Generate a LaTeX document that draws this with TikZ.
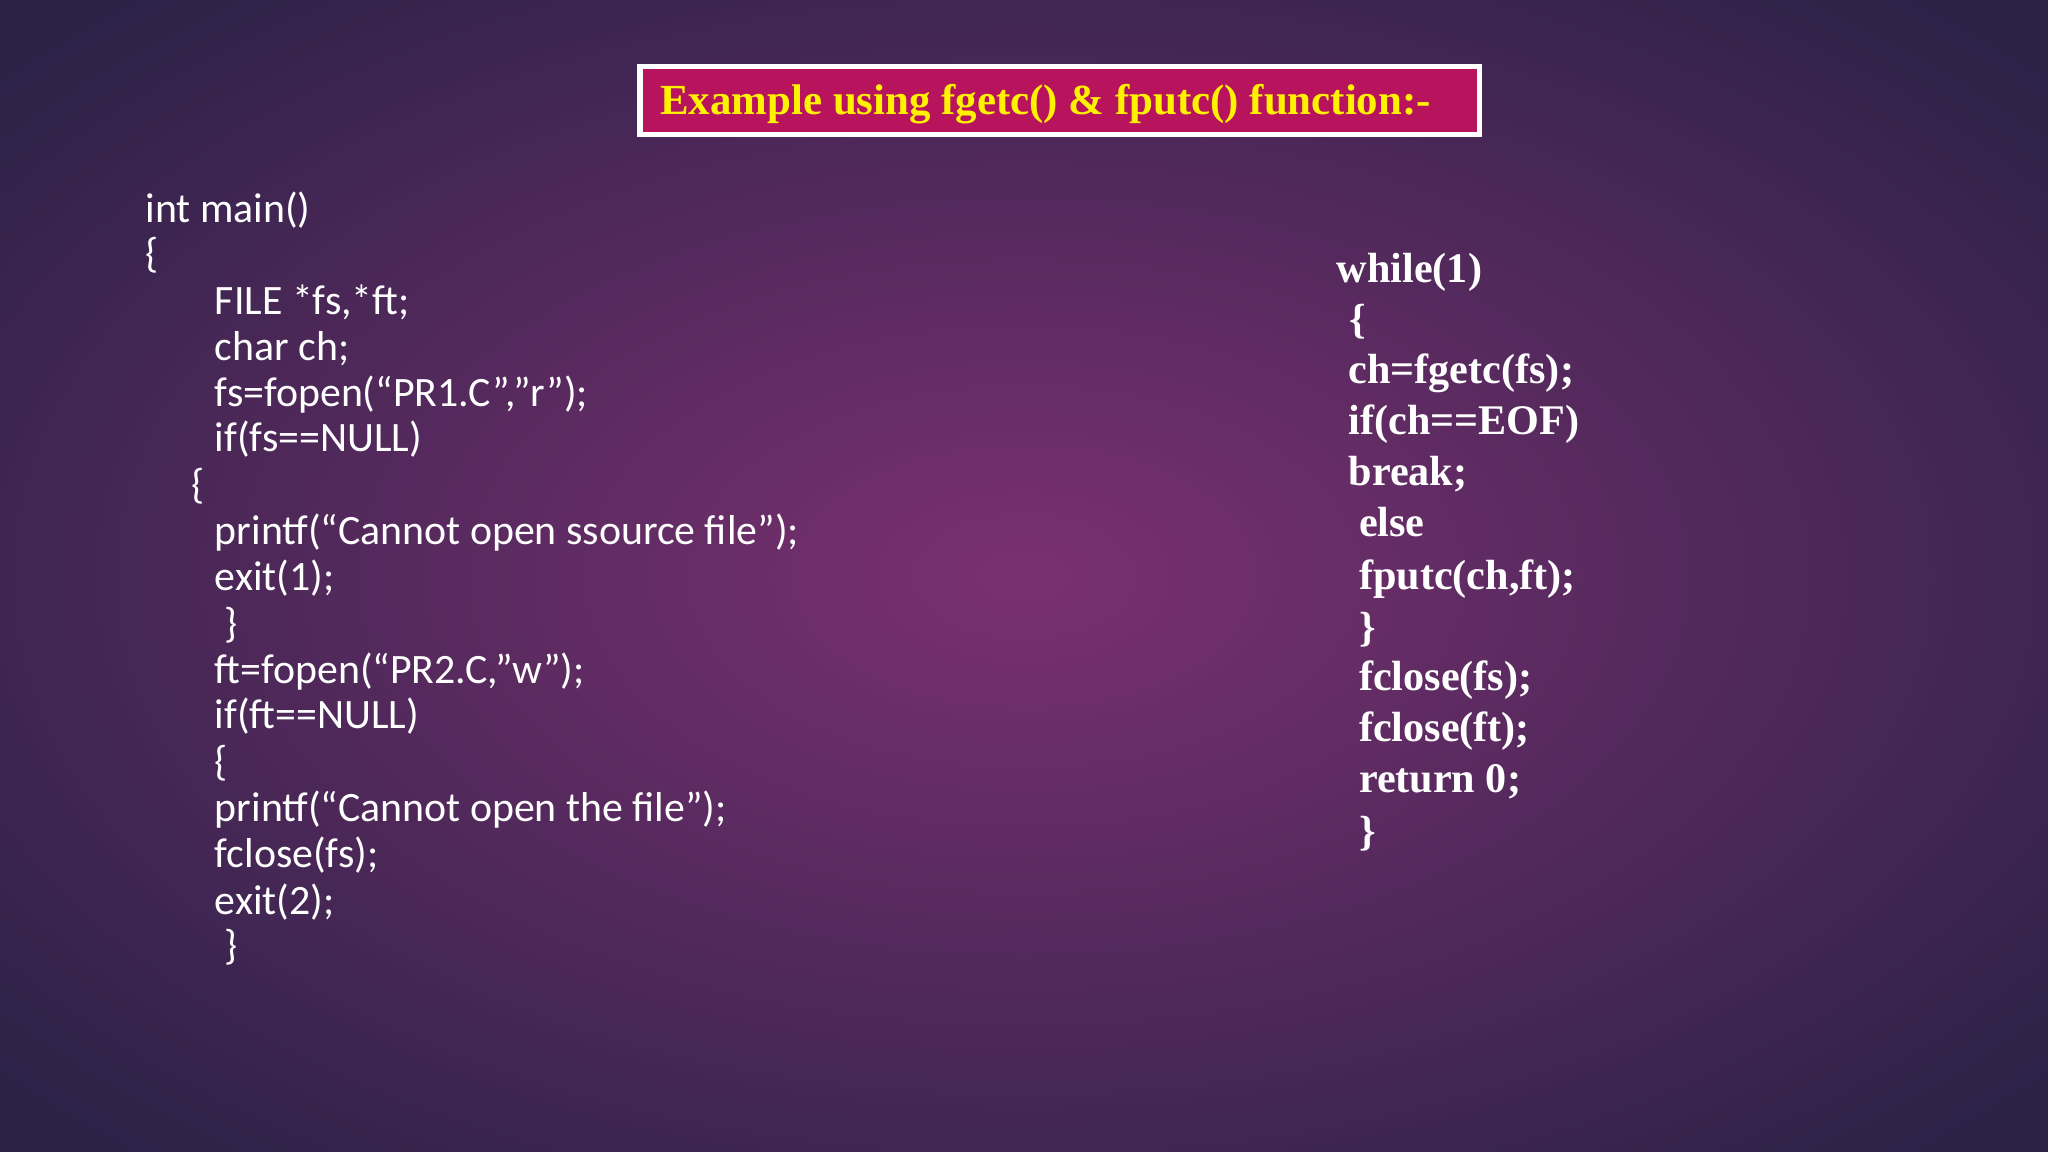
\documentclass[tikz,border=0pt]{standalone}
\usepackage{fontspec}
\setmainfont{Liberation Serif}
\newfontfamily\codefont{Carlito}
\begin{document}
\begin{tikzpicture}[x=0.013061cm,y=-0.013061cm,
  lc/.style={anchor=base west,text=white,font=\codefont\fontsize{11.9}{13}\selectfont,inner sep=0},
  rc/.style={anchor=base west,text=white,font=\bfseries\fontsize{12}{13}\selectfont,inner sep=0}]
\useasboundingbox (0,0) rectangle (1568,882);
\definecolor{bgin}{HTML}{7A3070}
\definecolor{bgout}{HTML}{2C2248}
\definecolor{titlebg}{HTML}{B8145E}
\shade[inner color=bgin,outer color=bgout] (-250,-150) rectangle (1818,1032);
\node[draw=white,line width=1.5pt,fill=titlebg,minimum width=643*0.013061cm,minimum height=52*0.013061cm,inner sep=0] (title) at (811.5,77) {};
\node[anchor=west,text=yellow,font=\bfseries\fontsize{12.2}{13}\selectfont,inner sep=0] (tt) at (505,80) {Example using fgetc() \& fputc() function:-};
% left code
\node[lc] (l1) at (111,170) {int main()};
\node[lc] (l2) at (111,205) {\{};
\node[lc] (l3) at (164,241) {FILE *fs,*ft;};
\node[lc] (l4) at (164,276) {char ch;};
\node[lc] (l5) at (164,311) {fs=fopen(“PR1.C”,”r”);};
\node[lc] (l6) at (164,346) {if(fs==NULL)};
\node[lc] (l7) at (146,382) {\{};
\node[lc] (l8) at (164,417) {printf(“Cannot open ssource file”);};
\node[lc] (l9) at (164,452) {exit(1);};
\node[lc] (l10) at (171,488) {\}};
\node[lc] (l11) at (164,523) {ft=fopen(“PR2.C,”w”);};
\node[lc] (l12) at (164,558) {if(ft==NULL)};
\node[lc] (l13) at (164,594) {\{};
\node[lc] (l14) at (164,629) {printf(“Cannot open the file”);};
\node[lc] (l15) at (164,664) {fclose(fs);};
\node[lc] (l16) at (164,700) {exit(2);};
\node[lc] (l17) at (171,735) {\}};
% right code
\node[rc] (r1) at (1023,216) {while(1)};
\node[rc] (r2) at (1033,255) {\{};
\node[rc] (r3) at (1032,294) {ch=fgetc(fs);};
\node[rc] (r4) at (1032,333) {if(ch==EOF)};
\node[rc] (r5) at (1032,372) {break;};
\node[rc] (r6) at (1040,411) {else};
\node[rc] (r7) at (1040,451) {fputc(ch,ft);};
\node[rc] (r8) at (1040,491) {\}};
\node[rc] (r9) at (1040,529) {fclose(fs);};
\node[rc] (r10) at (1040,568) {fclose(ft);};
\node[rc] (r11) at (1040,607) {return 0;};
\node[rc] (r12) at (1040,647) {\}};
\end{tikzpicture}
\end{document}
